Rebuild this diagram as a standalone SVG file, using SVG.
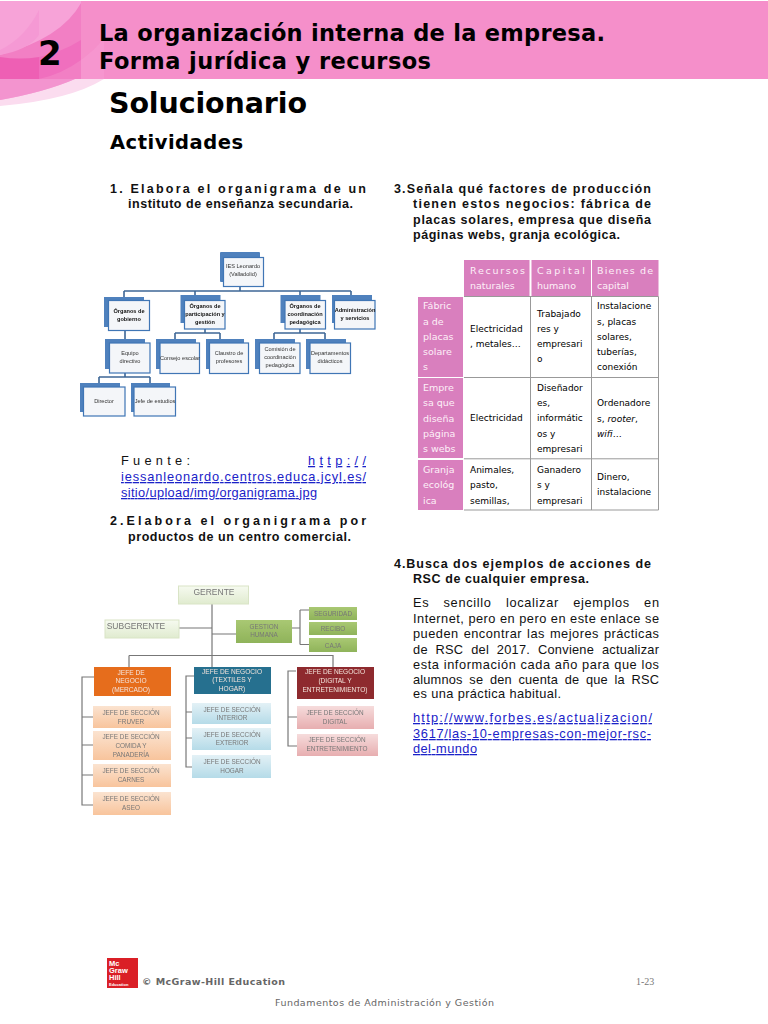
<svg xmlns="http://www.w3.org/2000/svg" width="768" height="1024" viewBox="0 0 768 1024">
<defs>
<filter id="soft" x="-5%" y="-5%" width="110%" height="110%"><feGaussianBlur stdDeviation="0.5"/></filter>
<linearGradient id="gw" x1="0" y1="0" x2="0" y2="1"><stop offset="0" stop-color="#f6faf0"/><stop offset="1" stop-color="#e0ebcf"/></linearGradient>
<linearGradient id="gg" x1="0" y1="0" x2="0" y2="1"><stop offset="0" stop-color="#a9c873"/><stop offset="1" stop-color="#8fb35a"/></linearGradient>
<linearGradient id="go" x1="0" y1="0" x2="0" y2="1"><stop offset="0" stop-color="#fbe3d0"/><stop offset="1" stop-color="#f8c49c"/></linearGradient>
<linearGradient id="gb" x1="0" y1="0" x2="0" y2="1"><stop offset="0" stop-color="#e3f1f6"/><stop offset="1" stop-color="#b5dbe8"/></linearGradient>
<linearGradient id="gr" x1="0" y1="0" x2="0" y2="1"><stop offset="0" stop-color="#f6dcdc"/><stop offset="1" stop-color="#e7aeb0"/></linearGradient>
</defs>
<style>
text{font-family:"Liberation Sans",Arial,sans-serif}
.h{font-family:"DejaVu Sans",Verdana,sans-serif;font-weight:bold;fill:#000}
.q{font-size:12.5px;font-weight:bold;fill:#111}
.p{font-size:12.800px;fill:#111}
.a{font-size:12.800px;fill:#1a22c8;text-decoration:underline}
.hc{font-family:"DejaVu Sans",Verdana,sans-serif;font-size:9.5px;fill:#fdf0f8}
.c{font-family:"DejaVu Sans",Verdana,sans-serif;font-size:9px;fill:#000}
.pk{fill:#d97fbe}
.bk{fill:#4f81bd}
.fr{fill:#f4f6f9;stroke:#3f76b5;stroke-width:1.2}
.t1{font-size:5.6px;fill:#333;text-anchor:middle}
.t1b{font-size:5.6px;fill:#111;font-weight:bold;text-anchor:middle}
.ln1{stroke:#3d6796;stroke-width:1.6;fill:none}
.ln2{stroke:#777;stroke-width:1.2;fill:none}
.t2{font-size:6.4px;text-anchor:middle;fill:#777}
.t2w{font-size:6.6px;text-anchor:middle;fill:#f4e4dc}
.ft{font-family:"DejaVu Sans",Verdana,sans-serif;fill:#666}
</style>
<rect width="768" height="1024" fill="#fff"/>
<g id="header">
<path d="M0 106Q70 100 104 79H0Z" fill="#fbdcef"/>
<path d="M0 100Q45 92 75 79H0Z" fill="#f7a7d8"/>
<rect x="0" y="1" width="768" height="78" fill="#f58fca"/>
<rect x="0" y="1" width="81" height="78" fill="#f7a3d8"/>
<path d="M81 3Q62 38 0 55V79H81Z" fill="#f27fc4"/>
<path d="M39 10Q25 38 0 50V55Q28 50 39 35Z" fill="#f599d4"/>
<path d="M39 57Q62 52 81 40V60Q62 74 39 79Z" fill="#f06fbe"/>
<path d="M0 57Q20 60 39 57V79H0Z" fill="#ee5fb4"/>
<path d="M81 60Q95 50 104 38V79H81Z" fill="#f69bd2" opacity=".6"/>
<path d="M0 79H75Q45 92 0 100Z" fill="#f394cf"/>
<text class="h" x="38" y="65" font-size="34">2</text>
<text class="h" x="99" y="41" font-size="22.500" textLength="506">La organización interna de la empresa.</text>
<text class="h" x="99" y="69" font-size="22.500" textLength="332">Forma jurídica y recursos</text>
</g>
<g id="headings">
<text class="h" x="109" y="113" font-size="28.500" textLength="198">Solucionario</text>
<text class="h" x="110" y="149" font-size="19.500" textLength="133">Actividades</text>
</g>
<g id="left-text">
<text class="q" x="110" y="193" textLength="256">1. Elabora el organigrama de un</text>
<text class="q" x="128" y="208" textLength="225">instituto de enseñanza secundaria.</text>
<text class="p" x="121" y="465" textLength="69">Fuente:</text>
<text class="a" x="308" y="465" textLength="58">http://</text>
<text class="a" x="121" y="481" textLength="245">iessanleonardo.centros.educa.jcyl.es/</text>
<text class="a" x="121" y="497" textLength="196">sitio/upload/img/organigrama.jpg</text>
<text class="q" x="110" y="525" textLength="256">2.Elabora el organigrama por</text>
<text class="q" x="128" y="541" textLength="223">productos de un centro comercial.</text>
</g>
<g id="right-text">
<text class="q" x="394" y="193" textLength="257">3.Señala qué factores de producción</text>
<text class="q" x="413" y="208" textLength="238">tienen estos negocios: fábrica de</text>
<text class="q" x="413" y="224" textLength="238">placas solares, empresa que diseña</text>
<text class="q" x="413" y="239" textLength="207">páginas webs, granja ecológica.</text>
<text class="q" x="394" y="568" textLength="257">4.Busca dos ejemplos de acciones de</text>
<text class="q" x="413" y="583" textLength="176">RSC de cualquier empresa.</text>
<text class="p" x="413" y="607" textLength="246" word-spacing="10">Es sencillo localizar ejemplos en</text>
<text class="p" x="413" y="623" textLength="246">Internet, pero en pero en este enlace se</text>
<text class="p" x="413" y="638" textLength="246" word-spacing="1">pueden encontrar las mejores prácticas</text>
<text class="p" x="413" y="654" textLength="246" word-spacing="4">de RSC del 2017. Conviene actualizar</text>
<text class="p" x="413" y="669" textLength="246">esta información cada año para que los</text>
<text class="p" x="413" y="684" textLength="246" word-spacing="3">alumnos se den cuenta de que la RSC</text>
<text class="p" x="413" y="698" textLength="148">es una práctica habitual.</text>
<text class="a" x="413" y="722" textLength="239">http://www.forbes.es/actualizacion/</text>
<text class="a" x="413" y="738" textLength="238">3617/las-10-empresas-con-mejor-rsc-</text>
<text class="a" x="413" y="753" textLength="64">del-mundo</text>
</g>
<g id="table">
<rect class="pk" x="464" y="260" width="65.500" height="36"/>
<rect class="pk" x="531.500" y="260" width="59.500" height="36"/>
<rect class="pk" x="592" y="260" width="66.500" height="36"/>
<rect class="pk" x="418" y="297" width="45" height="80"/>
<rect class="pk" x="418" y="378" width="45" height="80"/>
<rect class="pk" x="418" y="460" width="45" height="50"/>
<path d="M464 296.500H658.500V510H464M530.500 296.500V510M591.500 296.500V510M464 377.500H658.500M464 458.800H658.500" fill="none" stroke="#999"/>
<text class="hc" x="470" y="274" textLength="55">Recursos</text><text class="hc" x="470" y="289">naturales</text>
<text class="hc" x="537" y="274" textLength="48">Capital</text><text class="hc" x="537" y="289">humano</text>
<text class="hc" x="597" y="274" textLength="56">Bienes de</text><text class="hc" x="597" y="289">capital</text>
<text class="hc" x="423" y="309">Fábric</text><text class="hc" x="423" y="325">a de</text><text class="hc" x="423" y="340">placas</text><text class="hc" x="423" y="355">solare</text><text class="hc" x="423" y="370">s</text>
<text class="hc" x="423" y="391">Empre</text><text class="hc" x="423" y="406">sa que</text><text class="hc" x="423" y="422">diseña</text><text class="hc" x="423" y="437">página</text><text class="hc" x="423" y="452">s webs</text>
<text class="hc" x="423" y="473">Granja</text><text class="hc" x="423" y="488">ecológ</text><text class="hc" x="423" y="504">ica</text>
<text class="c" x="470" y="332">Electricidad</text><text class="c" x="470" y="347">, metales…</text>
<text class="c" x="470" y="421">Electricidad</text>
<text class="c" x="470" y="473">Animales,</text><text class="c" x="470" y="488">pasto,</text><text class="c" x="470" y="504">semillas,</text>
<text class="c" x="537" y="317">Trabajado</text><text class="c" x="537" y="332">res y</text><text class="c" x="537" y="347">empresari</text><text class="c" x="537" y="362">o</text>
<text class="c" x="537" y="391">Diseñador</text><text class="c" x="537" y="406">es,</text><text class="c" x="537" y="421">informátic</text><text class="c" x="537" y="437">os y</text><text class="c" x="537" y="452">empresari</text>
<text class="c" x="537" y="473">Ganadero</text><text class="c" x="537" y="488">s y</text><text class="c" x="537" y="504">empresari</text>
<text class="c" x="597" y="309">Instalacione</text><text class="c" x="597" y="325">s, placas</text><text class="c" x="597" y="340">solares,</text><text class="c" x="597" y="355">tuberías,</text><text class="c" x="597" y="370">conexión</text>
<text class="c" x="597" y="406">Ordenadore</text><text class="c" x="597" y="422">s, <tspan font-style="italic">rooter</tspan>,</text><text class="c" x="597" y="437"><tspan font-style="italic">wifi</tspan>…</text>
<text class="c" x="597" y="480">Dinero,</text><text class="c" x="597" y="495">instalacione</text>
</g>
<g id="chart1" filter="url(#soft)">
<g id="chart1-connectors">
<path class="ln1" d="M240 286V291M124 291H351M124 291V298M195 291V296M300 291V296M351 291V296"/>
<path class="ln1" d="M125 330V343M125 373V377M99 377H150M99 377V383M150 377V383M205 329V333M175 333H220M175 333V339M220 333V339M300 329V333M274 333H325M274 333V339M325 333V339"/>
</g>
<g id="c1-top"><rect class="bk" x="220" y="252" width="40" height="30" rx="1"/><rect class="fr" x="223.500" y="257.500" width="40" height="29"/><text class="t1" x="243" y="268">IES Leonardo</text><text class="t1" x="243" y="276">(Valladolid)</text></g>
<g id="c1-a"><rect class="bk" x="104" y="297" width="40" height="30"/><rect class="fr" x="108.500" y="300.500" width="41" height="30"/><text class="t1b" x="129" y="313">Órganos de</text><text class="t1b" x="129" y="321">gobierno</text></g>
<g id="c1-b"><rect class="bk" x="180.500" y="295" width="40" height="28"/><rect class="fr" x="184.500" y="300.500" width="40.500" height="28.500"/><text class="t1b" x="205" y="308">Órganos de</text><text class="t1b" x="205" y="316">participación y</text><text class="t1b" x="205" y="324">gestión</text></g>
<g id="c1-c"><rect class="bk" x="280.500" y="295" width="40" height="28"/><rect class="fr" x="285" y="300.500" width="40.500" height="28.500"/><text class="t1b" x="305" y="308">Órganos de</text><text class="t1b" x="305" y="316">coordinación</text><text class="t1b" x="305" y="324">pedagógica</text></g>
<g id="c1-d"><rect class="bk" x="332" y="295" width="40" height="28"/><rect class="fr" x="334.500" y="300.500" width="40.500" height="28.500"/><text class="t1b" x="355" y="312">Administración</text><text class="t1b" x="355" y="320">y servicios</text></g>
<g id="c1-e"><rect class="bk" x="105" y="339" width="40" height="30"/><rect class="fr" x="109.500" y="343" width="40.500" height="30"/><text class="t1" x="130" y="355">Equipo</text><text class="t1" x="130" y="363">directivo</text></g>
<g id="c1-f"><rect class="bk" x="156" y="339" width="40" height="30"/><rect class="fr" x="160" y="343" width="39.500" height="30.500"/><text class="t1" x="180" y="360">Consejo escolar</text></g>
<g id="c1-g"><rect class="bk" x="206" y="339" width="38" height="30"/><rect class="fr" x="209.500" y="343" width="39" height="30.500"/><text class="t1" x="229" y="355">Claustro de</text><text class="t1" x="229" y="363">profesores</text></g>
<g id="c1-h"><rect class="bk" x="255" y="339" width="40" height="30"/><rect class="fr" x="259.500" y="343" width="40.500" height="30.500"/><text class="t1" x="280" y="351">Comisión de</text><text class="t1" x="280" y="359">coordinación</text><text class="t1" x="280" y="367">pedagógica</text></g>
<g id="c1-i"><rect class="bk" x="306" y="339" width="40" height="30"/><rect class="fr" x="310" y="343" width="40.500" height="30.500"/><text class="t1" x="330" y="355">Departamentos</text><text class="t1" x="330" y="363">didácticos</text></g>
<g id="c1-j"><rect class="bk" x="80" y="383" width="40" height="29"/><rect class="fr" x="83.500" y="387" width="41.500" height="29"/><text class="t1" x="104" y="403">Director</text></g>
<g id="c1-k"><rect class="bk" x="131" y="383" width="39" height="29"/><rect class="fr" x="134" y="387" width="41.500" height="29"/><text class="t1" x="155" y="403">Jefe de estudios</text></g>
</g>
<g id="chart2" filter="url(#soft)">
<g id="chart2-connectors">
<path class="ln2" d="M212 604V667M179 628H212M212 634H236M292 628H300M300 610V644.500M300 610H309M300 644.500H309M129 655.500V667M129 655.500H333V667"/>
<path class="ln2" d="M94 677H82V805H94M82 717H94M82 745H94M82 775H94M194 676H186V767H192M186 712H192M186 738H192M296 671H288V746H297M288 717H297"/>
</g>
<g id="c2-ger"><rect x="178.500" y="586" width="70" height="18" fill="url(#gw)" stroke="#d9e4c6"/><text class="t2" x="214" y="595" style="font-size:8.500px">GERENTE</text></g>
<g id="c2-sub"><rect x="105" y="620" width="74" height="18" fill="url(#gw)" stroke="#d9e4c6"/><text class="t2" x="136" y="629" style="font-size:8.500px">SUBGERENTE</text></g>
<g id="c2-gh"><rect x="236" y="620" width="56" height="23" fill="url(#gg)"/><text class="t2" x="264" y="629">GESTION</text><text class="t2" x="264" y="637">HUMANA</text></g>
<g id="c2-seg"><rect x="309" y="607" width="48" height="13" fill="url(#gg)"/><text class="t2" x="333" y="616">SEGURIDAD</text></g>
<g id="c2-rec"><rect x="309" y="622" width="48" height="13" fill="url(#gg)"/><text class="t2" x="333" y="631">RECIBO</text></g>
<g id="c2-caj"><rect x="309" y="638" width="48" height="14" fill="url(#gg)"/><text class="t2" x="333" y="648">CAJA</text></g>
<g id="c2-o"><rect x="94" y="667" width="77" height="29" fill="#e66d1e"/><text class="t2w" x="131" y="675">JEFE DE</text><text class="t2w" x="131" y="683">NEGOCIO</text><text class="t2w" x="131" y="692">(MERCADO)</text></g>
<g id="c2-t"><rect x="194" y="667" width="77" height="27" fill="#25708f"/><text class="t2w" x="232" y="674">JEFE DE NEGOCIO</text><text class="t2w" x="232" y="682">(TEXTILES Y</text><text class="t2w" x="232" y="691">HOGAR)</text></g>
<g id="c2-r"><rect x="297" y="667" width="77" height="32" fill="#8e2c2f"/><text class="t2w" x="335" y="674">JEFE DE NEGOCIO</text><text class="t2w" x="335" y="683">(DIGITAL Y</text><text class="t2w" x="335" y="692">ENTRETENIMIENTO)</text></g>
<g id="c2-o1"><rect x="93" y="706" width="78" height="22" fill="url(#go)"/><text class="t2" x="131" y="715">JEFE DE SECCIÓN</text><text class="t2" x="131" y="724">FRUVER</text></g>
<g id="c2-o2"><rect x="93" y="731" width="78" height="29" fill="url(#go)"/><text class="t2" x="131" y="739">JEFE DE SECCIÓN</text><text class="t2" x="131" y="748">COMIDA Y</text><text class="t2" x="131" y="757">PANADERÍA</text></g>
<g id="c2-o3"><rect x="93" y="764" width="78" height="23" fill="url(#go)"/><text class="t2" x="131" y="773">JEFE DE SECCIÓN</text><text class="t2" x="131" y="782">CARNES</text></g>
<g id="c2-o4"><rect x="93" y="792" width="78" height="23" fill="url(#go)"/><text class="t2" x="131" y="801">JEFE DE SECCIÓN</text><text class="t2" x="131" y="810">ASEO</text></g>
<g id="c2-b1"><rect x="192" y="703" width="79" height="21" fill="url(#gb)"/><text class="t2" x="232" y="712">JEFE DE SECCIÓN</text><text class="t2" x="232" y="720">INTERIOR</text></g>
<g id="c2-b2"><rect x="192" y="728" width="79" height="22" fill="url(#gb)"/><text class="t2" x="232" y="737">JEFE DE SECCIÓN</text><text class="t2" x="232" y="745">EXTERIOR</text></g>
<g id="c2-b3"><rect x="192" y="755" width="79" height="23" fill="url(#gb)"/><text class="t2" x="232" y="764">JEFE DE SECCIÓN</text><text class="t2" x="232" y="773">HOGAR</text></g>
<g id="c2-r1"><rect x="297" y="706" width="77" height="23" fill="url(#gr)"/><text class="t2" x="335" y="715">JEFE DE SECCIÓN</text><text class="t2" x="335" y="724">DIGITAL</text></g>
<g id="c2-r2"><rect x="297" y="734" width="81" height="22" fill="url(#gr)"/><text class="t2" x="337" y="742">JEFE DE SECCIÓN</text><text class="t2" x="337" y="751">ENTRETENIMIENTO</text></g>
</g>
<g id="footer">
<rect x="107" y="958" width="31" height="30" fill="#da1f26"/>
<text x="109" y="966" font-size="7.500" font-weight="bold" fill="#fff">Mc</text>
<text x="109" y="973" font-size="7.500" font-weight="bold" fill="#fff">Graw</text>
<text x="109" y="980" font-size="7.500" font-weight="bold" fill="#fff">Hill</text>
<text x="109" y="986" font-size="4" font-weight="bold" fill="#fff">Education</text>
<text class="ft" x="142" y="985" font-size="9.500" font-weight="bold" textLength="143">© McGraw-Hill Education</text>
<text x="636" y="985" font-size="10" fill="#777" style="font-family:'Liberation Serif',serif">1-23</text>
<text class="ft" x="275" y="1006" font-size="9.500" textLength="219">Fundamentos de Administración y Gestión</text>
</g>
</svg>
